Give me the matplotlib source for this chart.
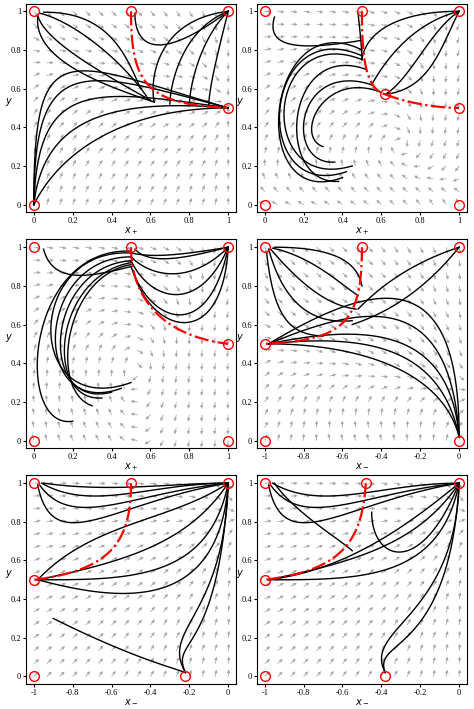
import numpy as np
import matplotlib
matplotlib.use("Agg")
import matplotlib.pyplot as plt

plt.rcParams['font.family'] = ['Liberation Serif', 'DejaVu Serif']

ticks_pos = [0, 0.2, 0.4, 0.6, 0.8, 1]
ticks_neg = [-1, -0.8, -0.6, -0.4, -0.2, 0]
yticks = [0, 0.2, 0.4, 0.6, 0.8, 1]

panels = [
    dict(xr=(0, 1), xl=r'$x_+$',
         fixed=[(0, 0), (0, 1), (0.5, 1), (1, 1), (1, 0.5)],
         red=[[(0.5, 1), (0.5, 0.62), (0.58, 0.52), (1, 0.5)]],
         traj=[[(0, 0), (0.05, 0.45), (0.4, 0.55), (1, 0.5)],
               [(0, 0), (0.02, 0.65), (0.3, 0.6), (1, 0.5)],
               [(0, 0), (0.0, 0.8), (0.25, 0.7), (1, 0.5)],
               [(0, 0), (0.0, 0.9), (0.15, 0.75), (1, 0.5)],
               [(0, 0), (0.15, 0.3), (0.5, 0.5), (1, 0.5)],
               [(0.02, 0.97), (0.0, 0.75), (0.35, 0.62), (0.62, 0.53)],
               [(0.02, 0.98), (0.05, 0.85), (0.35, 0.68), (0.6, 0.54)],
               [(0.03, 0.99), (0.2, 0.95), (0.45, 0.75), (0.58, 0.56)],
               [(0.05, 0.995), (0.4, 1.0), (0.48, 0.75), (0.55, 0.6)],
               [(1, 1), (0.6, 0.95), (0.6, 0.6), (0.62, 0.53)],
               [(1, 1), (0.75, 0.9), (0.7, 0.6), (0.7, 0.52)],
               [(1, 1), (0.85, 0.85), (0.8, 0.6), (0.8, 0.51)],
               [(1, 1), (0.95, 0.8), (0.9, 0.6), (0.9, 0.51)],
               [(0.52, 0.99), (0.52, 0.85), (0.6, 0.7), (1, 1)]],
         field=lambda x, y: ((1 - x) * (0.3 + x), (0.5 - y) * 0.8 + (1 - x) * (1 - y) * 0.8)),
    dict(xr=(0, 1), xl=r'$x_+$',
         fixed=[(0, 0), (0, 1), (0.5, 1), (1, 1), (1, 0.5), (1, 0), (0.62, 0.57)],
         red=[[(0.5, 1), (0.5, 0.75), (0.52, 0.6), (0.62, 0.57)],
              [(0.62, 0.57), (0.75, 0.52), (0.9, 0.5), (1, 0.5)]],
         traj=[[(0.45, 0.2), (-0.05, 0.05), (0.0, 0.95), (0.5, 0.75)],
               [(0.42, 0.17), (-0.08, 0.0), (-0.02, 1.0), (0.5, 0.77)],
               [(0.4, 0.14), (-0.1, -0.05), (0.0, 1.05), (0.5, 0.8)],
               [(0.38, 0.12), (0.05, 0.1), (0.1, 0.85), (0.52, 0.7)],
               [(0.36, 0.22), (0.1, 0.2), (0.15, 0.75), (0.55, 0.62)],
               [(0.3, 0.3), (0.15, 0.35), (0.3, 0.7), (0.6, 0.58)],
               [(0.05, 0.97), (0.0, 0.8), (0.2, 0.8), (0.5, 0.85)],
               [(0.48, 0.99), (0.49, 0.9), (0.5, 0.8), (0.5, 0.75)],
               [(0.62, 0.57), (0.85, 0.6), (0.9, 0.8), (1, 1)],
               [(0.62, 0.57), (0.75, 0.65), (0.85, 0.9), (1, 1)],
               [(0.55, 0.62), (0.65, 0.8), (0.8, 0.95), (1, 1)],
               [(0.5, 0.75), (0.52, 0.9), (0.7, 1.0), (1, 1)]],
         field=lambda x, y: ((1 - x) * (y - 0.25) + 0.1 * (0.5 - x), (0.6 - x) * (1 - y) * y * 2 + 0.2 * (0.5 - y))),
    dict(xr=(0, 1), xl=r'$x_+$',
         fixed=[(0, 0), (0, 1), (0.5, 1), (1, 1), (1, 0.5), (1, 0)],
         red=[[(0.5, 1), (0.5, 0.8), (0.6, 0.55), (1, 0.5)]],
         traj=[[(0.5, 0.3), (-0.05, 0.1), (-0.05, 1.0), (0.5, 0.97)],
               [(0.45, 0.27), (-0.02, 0.1), (0.0, 0.95), (0.5, 0.95)],
               [(0.4, 0.25), (0.02, 0.15), (0.05, 0.9), (0.5, 0.93)],
               [(0.35, 0.22), (0.05, 0.2), (0.1, 0.85), (0.5, 0.92)],
               [(0.3, 0.18), (0.08, 0.25), (0.15, 0.85), (0.5, 0.91)],
               [(0.2, 0.1), (-0.1, 0.05), (-0.05, 1.0), (0.5, 0.98)],
               [(0.05, 0.99), (0.1, 0.8), (0.3, 0.85), (0.5, 0.9)],
               [(1, 1), (0.7, 0.95), (0.6, 0.95), (0.5, 0.97)],
               [(1, 1), (0.8, 0.8), (0.6, 0.85), (0.5, 0.95)],
               [(1, 1), (0.85, 0.65), (0.6, 0.72), (0.5, 0.93)],
               [(1, 1), (0.9, 0.5), (0.6, 0.6), (0.5, 0.9)],
               [(1, 1), (0.97, 0.45), (0.6, 0.55), (0.51, 0.88)],
               [(0.52, 0.99), (0.6, 0.9), (0.8, 0.95), (1, 1)]],
         field=lambda x, y: ((1 - x) * (y - 0.35) + 0.15 * (0.5 - x), (0.5 - x) * (1 - y) * 2 + 0.2 * (0.5 - y))),
    dict(xr=(-1, 0), xl=r'$x_-$',
         fixed=[(-1, 0), (-1, 0.5), (-1, 1), (-0.5, 1), (0, 1), (0, 0)],
         red=[[(-0.5, 1), (-0.5, 0.6), (-0.6, 0.52), (-1, 0.5)]],
         traj=[[(-0.98, 0.99), (-0.9, 0.7), (-0.75, 0.6), (-0.55, 0.62)],
               [(-0.97, 0.99), (-0.85, 0.85), (-0.7, 0.7), (-0.53, 0.68)],
               [(-0.96, 0.995), (-0.75, 0.95), (-0.6, 0.8), (-0.52, 0.75)],
               [(-0.95, 1.0), (-0.6, 1.0), (-0.52, 0.9), (-0.5, 0.8)],
               [(-0.99, 0.97), (-0.95, 0.6), (-0.85, 0.55), (-0.7, 0.54)],
               [(0, 1), (-0.3, 0.9), (-0.45, 0.75), (-0.52, 0.68)],
               [(0, 1), (-0.2, 0.75), (-0.4, 0.65), (-0.55, 0.6)],
               [(-0.98, 0.5), (-0.5, 0.6), (-0.05, 0.6), (0, 0.02)],
               [(-0.98, 0.5), (-0.5, 0.55), (-0.1, 0.5), (0, 0.02)],
               [(-0.98, 0.5), (-0.6, 0.5), (-0.1, 0.4), (0, 0.02)],
               [(-0.98, 0.5), (-0.5, 0.7), (-0.05, 0.8), (0, 0.02)],
               [(-0.98, 0.5), (-0.4, 0.85), (0.0, 0.9), (0, 0.02)]],
         field=lambda x, y: (-x * (1 + x) * (y - 0.3) * 2 + 0.1, (0.5 - y) * 0.5 - (x + 1) * y * 0.5)),
    dict(xr=(-1, 0), xl=r'$x_-$',
         fixed=[(-1, 0), (-1, 0.5), (-1, 1), (-0.5, 1), (0, 1), (-0.22, 0)],
         red=[[(-0.5, 1), (-0.5, 0.7), (-0.6, 0.55), (-1, 0.5)]],
         traj=[[(-0.98, 0.5), (-0.5, 0.6), (-0.2, 0.7), (0, 1)],
               [(-0.98, 0.5), (-0.5, 0.5), (-0.1, 0.5), (0, 1)],
               [(-0.98, 0.5), (-0.6, 0.4), (-0.05, 0.3), (0, 1)],
               [(-0.98, 0.5), (-0.7, 0.8), (-0.3, 0.8), (0, 1)],
               [(-0.98, 0.99), (-0.9, 0.6), (-0.6, 0.9), (0, 1)],
               [(-0.97, 0.99), (-0.8, 0.75), (-0.5, 0.95), (0, 1)],
               [(-0.96, 1.0), (-0.7, 0.85), (-0.4, 1.0), (0, 1)],
               [(-0.95, 1.0), (-0.6, 0.95), (-0.3, 1.0), (0, 1)],
               [(-0.22, 0.02), (-0.3, 0.2), (-0.05, 0.1), (0, 1)],
               [(-0.22, 0.02), (-0.35, 0.25), (-0.02, 0.3), (0, 1)],
               [(-0.9, 0.3), (-0.5, 0.1), (-0.3, 0.05), (-0.22, 0.02)]],
         field=lambda x, y: (-x * 0.6 + 0.05, (1 - y) * 0.6 - (x + 1) * 0.1)),
    dict(xr=(-1, 0), xl=r'$x_-$',
         fixed=[(-1, 0), (-1, 0.5), (-1, 1), (-0.48, 1), (0, 1), (-0.38, 0)],
         red=[[(-0.48, 1), (-0.5, 0.7), (-0.6, 0.55), (-1, 0.5)]],
         traj=[[(-0.98, 0.5), (-0.5, 0.6), (-0.2, 0.7), (0, 1)],
               [(-0.98, 0.5), (-0.5, 0.5), (-0.1, 0.5), (0, 1)],
               [(-0.98, 0.5), (-0.6, 0.55), (-0.3, 0.75), (0, 1)],
               [(-0.98, 0.99), (-0.9, 0.6), (-0.6, 0.9), (0, 1)],
               [(-0.97, 0.99), (-0.8, 0.75), (-0.5, 0.95), (0, 1)],
               [(-0.96, 1.0), (-0.7, 0.85), (-0.4, 1.0), (0, 1)],
               [(-0.95, 1.0), (-0.85, 0.85), (-0.6, 0.7), (-0.55, 0.65)],
               [(-0.38, 0.02), (-0.45, 0.2), (-0.05, 0.1), (0, 1)],
               [(-0.38, 0.02), (-0.5, 0.25), (-0.02, 0.3), (0, 1)],
               [(-0.45, 0.85), (-0.45, 0.6), (-0.2, 0.5), (0, 1)]],
         field=lambda x, y: (-x * 0.6 + 0.05, (1 - y) * 0.6 - (x + 1) * 0.1)),
]


def bezier(pts, n=120):
    p = np.array(pts, dtype=float)
    t = np.linspace(0, 1, n)[:, None]
    return ((1 - t) ** 3 * p[0] + 3 * (1 - t) ** 2 * t * p[1]
            + 3 * (1 - t) * t ** 2 * p[2] + t ** 3 * p[3])


fig, axes = plt.subplots(3, 2, figsize=(4.74, 7.09), dpi=100)
fig.subplots_adjust(left=0.055, right=0.985, top=0.995, bottom=0.035, hspace=0.13, wspace=0.1)
for ax, P in zip(axes.flat, panels):
    x0, x1 = P['xr']
    gx, gy = np.meshgrid(np.linspace(x0, x1, 16), np.linspace(0, 1, 16))
    u, v = P['field'](gx, gy)
    m = np.hypot(u, v) + 1e-9
    ax.quiver(gx, gy, u / m, v / m, color='#a8a8a8', scale=30, width=0.004,
              headwidth=4, headlength=4, zorder=1)
    for tr in P['traj']:
        c = bezier(tr)
        ax.plot(c[:, 0], c[:, 1], color='black', lw=1.0, zorder=2)
    for r in P['red']:
        c = bezier(r)
        ax.plot(c[:, 0], c[:, 1], color='red', lw=1.6, ls='-.', zorder=3)
    for fx, fy in P['fixed']:
        ax.plot(fx, fy, 'o', ms=7, mfc='none', mec='red', mew=1.0, clip_on=False, zorder=4)
    ax.set_xlim(x0 - 0.04, x1 + 0.04)
    ax.set_ylim(-0.04, 1.04)
    tk = ticks_pos if x0 == 0 else ticks_neg
    ax.set_xticks(tk)
    ax.set_xticklabels(['%g' % t for t in tk])
    ax.set_yticks(yticks)
    ax.set_yticklabels(['%g' % t for t in yticks])
    ax.tick_params(labelsize=6, length=2, pad=1.5)
    ax.set_xlabel(P['xl'], fontsize=7, labelpad=0)
    ax.set_ylabel(r'$y$', fontsize=7, labelpad=1, rotation=0)
fig.savefig('out.png', dpi=100)
